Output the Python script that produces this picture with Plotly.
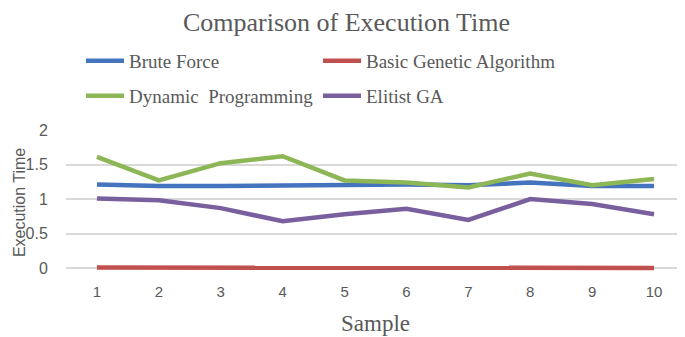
import plotly.graph_objects as go

samples = [1, 2, 3, 4, 5, 6, 7, 8, 9, 10]
sample_labels = [str(s) for s in samples]
brute_force = [1.21, 1.19, 1.19, 1.20, 1.20, 1.21, 1.20, 1.24, 1.19, 1.19]
basic_ga = [0.01, 0.01, 0.01, 0.005, 0.005, 0.005, 0.005, 0.01, 0.005, 0.005]
dynamic_prog = [1.61, 1.27, 1.52, 1.62, 1.27, 1.24, 1.17, 1.37, 1.20, 1.29]
elitist_ga = [1.01, 0.985, 0.87, 0.68, 0.78, 0.86, 0.70, 1.00, 0.93, 0.78]

y_ticks = [0, 0.5, 1, 1.5, 2]
y_tick_labels = ["0", "0.5", "1", "1.5", "2"]

GRAY = "#595959"
SERIF = "Liberation Serif, Times New Roman, serif"
SANS = "Liberation Sans, Arial, sans-serif"

# page has an 8px body margin; figure coordinates are offset accordingly
W, H = 677, 329
L, T = 58, 122
PLOT_W = W - L
PX_PER_UNIT = 69.0
Y_MIN, Y_MAX = -0.04, 2.0
PLOT_H = PX_PER_UNIT * (Y_MAX - Y_MIN)

def paper_y(fig_px):
    return (T + PLOT_H - fig_px) / PLOT_H

def paper_x(fig_px):
    return (fig_px - L) / PLOT_W

fig = go.Figure()
# (name, values, colour, legend id, legend x px, legend y px)
series = [
    ("Brute Force", brute_force, "#4474BE", "legend", 73, 53),
    ("Basic Genetic Algorithm", basic_ga, "#C0504D", "legend2", 310, 53),
    ("Dynamic\u00a0 Programming", dynamic_prog, "#8DB657", "legend3", 73, 88),
    ("Elitist GA", elitist_ga, "#7A5F9E", "legend4", 310, 88),
]
legends = {}
for name, vals, color, lg, lx, ly in series:
    fig.add_trace(go.Scatter(
        x=sample_labels, y=vals, name=name, mode="lines", showlegend=True,
        line=dict(color=color, width=4.5), legend=lg,
    ))
    legends[lg] = dict(
        x=paper_x(lx), y=paper_y(ly), visible=True,
        orientation="h", xanchor="left", yanchor="middle",
        font=dict(family=SERIF, size=19, color=GRAY),
        bgcolor="rgba(0,0,0,0)", itemwidth=38,
    )

fig.update_layout(
    width=W, height=H, showlegend=True,
    margin=dict(l=L, r=0, t=T, b=H - T - PLOT_H, autoexpand=False),
    plot_bgcolor="white", paper_bgcolor="white",
    title=dict(text="Comparison of Execution Time", x=0.5, xanchor="center",
               y=1, yanchor="top", pad=dict(t=5),
               font=dict(family=SERIF, size=26, color=GRAY)),
    xaxis=dict(
        type="category", range=[-0.5, 9.5],
        showgrid=False, showline=False, zeroline=False,
        ticks="outside", ticklen=7, tickcolor="rgba(0,0,0,0)",
        tickfont=dict(family=SANS, size=15, color=GRAY),
        title=dict(text="Sample", font=dict(family=SERIF, size=23, color=GRAY), standoff=15),
        automargin=False,
    ),
    yaxis=dict(
        range=[Y_MIN, Y_MAX], tickvals=y_ticks, ticktext=y_tick_labels,
        showgrid=True, gridcolor="#D9D9D9", gridwidth=1.5, zeroline=False,
        ticks="outside", ticklen=14, tickcolor="rgba(0,0,0,0)",
        tickfont=dict(family=SANS, size=16, color=GRAY),
        automargin=False,
    ),
    annotations=[dict(
        text="Execution Time", textangle=-90, showarrow=False,
        xref="paper", yref="paper", x=paper_x(11), y=paper_y(195),
        xanchor="center", yanchor="middle",
        font=dict(family=SANS, size=16, color=GRAY),
    )],
    **legends,
)

fig.write_html("out.html")
